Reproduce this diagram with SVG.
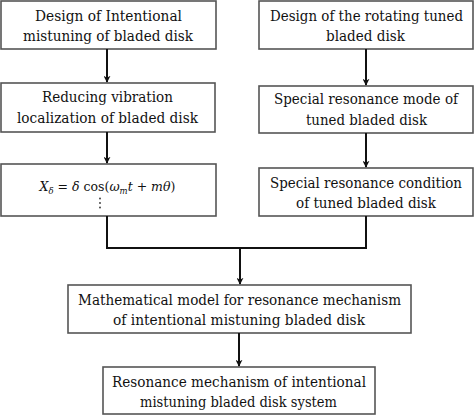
<svg xmlns="http://www.w3.org/2000/svg" width="474" height="418" viewBox="0 0 474 418">
<defs>
<marker id="ah" viewBox="0 0 10 10" refX="9" refY="5" markerWidth="7" markerHeight="7" markerUnits="userSpaceOnUse" orient="auto">
<path d="M0,0 L10,5 L0,10 L3,5 Z" fill="#111"/>
</marker>
<style>
rect.b{fill:#fff;stroke:#555;stroke-width:1.6}
text{font-family:'DejaVu Serif','Liberation Serif',serif;font-size:14px;fill:#111;text-anchor:middle}
text.f{font-size:12.5px}
.c{fill:none;stroke:#111;stroke-width:2}
.m{font-style:italic}
</style>
</defs>
<rect width="474" height="418" fill="#fff"/>
<g id="n1"><rect class="b" x="1" y="1" width="215" height="48"/><text x="108.5" y="21" textLength="147" lengthAdjust="spacingAndGlyphs">Design of Intentional</text><text x="108" y="41" textLength="170" lengthAdjust="spacingAndGlyphs">mistuning of bladed disk</text></g>
<g id="n2"><rect class="b" x="1" y="83" width="214" height="49"/><text x="107.5" y="102" textLength="131" lengthAdjust="spacingAndGlyphs">Reducing vibration</text><text x="107.5" y="123" textLength="181" lengthAdjust="spacingAndGlyphs">localization of bladed disk</text></g>
<g id="n3"><rect class="b" x="1" y="164" width="215" height="52"/>
<text class="f" x="107.5" y="191"><tspan class="m">X</tspan><tspan class="m" font-size="8.5" dy="3">δ</tspan><tspan dy="-3"> = </tspan><tspan class="m">δ</tspan><tspan> cos(</tspan><tspan class="m">ω</tspan><tspan class="m" font-size="8.5" dy="3">m</tspan><tspan class="m" dy="-3">t</tspan><tspan> + </tspan><tspan class="m">mθ</tspan><tspan>)</tspan></text>
<g fill="#333"><circle cx="100" cy="198.5" r="0.9"/><circle cx="100" cy="203" r="0.9"/><circle cx="100" cy="207.5" r="0.9"/></g></g>
<g id="n4"><rect class="b" x="259" y="1" width="214" height="48"/><text x="366.5" y="21" textLength="193" lengthAdjust="spacingAndGlyphs">Design of the rotating tuned</text><text x="365.5" y="41" textLength="79" lengthAdjust="spacingAndGlyphs">bladed disk</text></g>
<g id="n5"><rect class="b" x="259" y="86" width="214" height="47"/><text x="366" y="104" textLength="184" lengthAdjust="spacingAndGlyphs">Special resonance mode of</text><text x="366.5" y="125" textLength="121" lengthAdjust="spacingAndGlyphs">tuned bladed disk</text></g>
<g id="n6"><rect class="b" x="259" y="168" width="214" height="48"/><text x="366" y="188" textLength="192" lengthAdjust="spacingAndGlyphs">Special resonance condition</text><text x="366" y="208" textLength="140" lengthAdjust="spacingAndGlyphs">of tuned bladed disk</text></g>
<g id="n7"><rect class="b" x="68" y="285" width="343" height="48"/><text x="239.5" y="305" textLength="323" lengthAdjust="spacingAndGlyphs">Mathematical model for resonance mechanism</text><text x="239" y="325" textLength="252" lengthAdjust="spacingAndGlyphs">of intentional mistuning bladed disk</text></g>
<g id="n8"><rect class="b" x="103" y="367" width="272" height="47"/><text x="239" y="387" textLength="254" lengthAdjust="spacingAndGlyphs">Resonance mechanism of intentional</text><text x="238.5" y="407" textLength="197" lengthAdjust="spacingAndGlyphs">mistuning bladed disk system</text></g>
<g id="connectors">
<path class="c" d="M107,49 V82" marker-end="url(#ah)"/>
<path class="c" d="M107,132 V163" marker-end="url(#ah)"/>
<path class="c" d="M366,49 V85" marker-end="url(#ah)"/>
<path class="c" d="M366,133 V167" marker-end="url(#ah)"/>
<path class="c" d="M107,216 V248 H366 V216"/>
<path class="c" d="M240,248 V284" marker-end="url(#ah)"/>
<path class="c" d="M239,333 V366" marker-end="url(#ah)"/>
</g>
</svg>
